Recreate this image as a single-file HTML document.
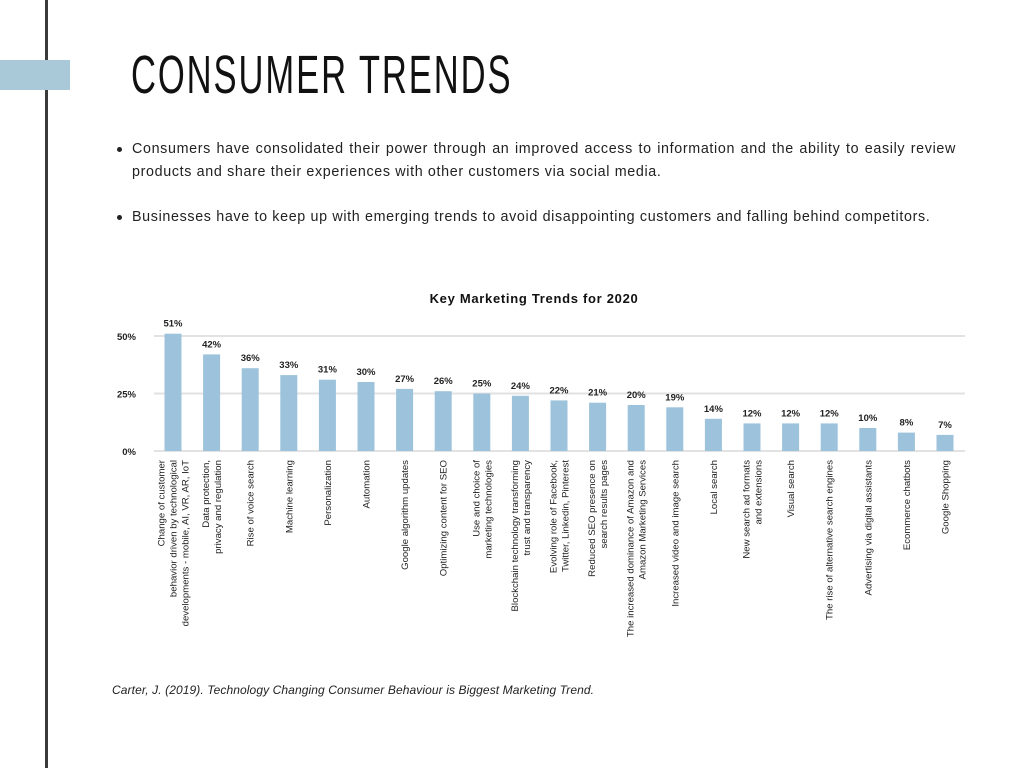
<!DOCTYPE html>
<html><head><meta charset="utf-8">
<style>
html,body{margin:0;padding:0;background:#fff;}
body{width:1024px;height:768px;position:relative;overflow:hidden;font-family:"Liberation Sans",sans-serif;}
.vline{position:absolute;left:45px;top:0;width:3px;height:768px;background:#3a3a3a;}
.tab{position:absolute;left:0;top:60px;width:70px;height:30px;background:#a9c9d9;}
.title{position:absolute;left:131px;top:44px;font-family:"Liberation Sans Narrow","Liberation Sans",sans-serif;font-size:54px;letter-spacing:3px;color:#111;transform:scaleX(0.64);transform-origin:left top;white-space:nowrap;}
.bullets{position:absolute;left:132px;top:138px;width:824px;font-size:14.3px;line-height:23px;color:#222;letter-spacing:0.65px;}
.bullets p{margin:0 0 22px 0;text-align:justify;position:relative;}
.bullets p::before{content:"";position:absolute;left:-15px;top:9px;width:5px;height:5px;border-radius:50%;background:#222;}
.cite{position:absolute;left:112px;top:683px;font-size:12px;letter-spacing:0.1px;font-style:italic;color:#222;white-space:nowrap;}
</style></head><body>
<div class="vline"></div>
<div class="tab"></div>
<div class="title">CONSUMER TRENDS</div>
<div class="bullets">
<p>Consumers have consolidated their power through an improved access to information and the ability to easily review products and share their experiences with other customers via social media.</p>
<p>Businesses have to keep up with emerging trends to avoid disappointing customers and falling behind competitors.</p>
</div>
<svg id="chart" width="1024" height="768" style="position:absolute;left:0;top:0" xmlns="http://www.w3.org/2000/svg"></svg>
<div class="cite">Carter, J. (2019). Technology Changing Consumer Behaviour is Biggest Marketing Trend.</div>
<script>
const categories=[
["Change of customer","behavior driven by technological","developments - mobile, AI, VR, AR, IoT"],
["Data protection,","privacy and regulation"],
["Rise of voice search"],
["Machine learning"],
["Personalization"],
["Automation"],
["Google algorithm updates"],
["Optimizing content for SEO"],
["Use and choice of","marketing technologies"],
["Blockchain technology transforming","trust and transparency"],
["Evolving role of Facebook,","Twitter, Linkedin, Pinterest"],
["Reduced SEO presence on","search results pages"],
["The increased dominance of Amazon and","Amazon Marketing Services"],
["Increased video and image search"],
["Local search"],
["New search ad formats","and extensions"],
["Visual search"],
["The rise of alternative search engines"],
["Advertising via digital assistants"],
["Ecommerce chatbots"],
["Google Shopping"]];
const values=[51,42,36,33,31,30,27,26,25,24,22,21,20,19,14,12,12,12,10,8,7];
const ticks=[0,25,50];
const svg=document.getElementById('chart');
const NS='http://www.w3.org/2000/svg';
const x0=154,x1=965,base=451,top50=336;
const y=v=>base-(base-top50)*v/50;
const step=(945-173)/(values.length-1);
const xc=i=>173+i*step;
function mk(t,a){const e=document.createElementNS(NS,t);for(const k in a)e.setAttribute(k,a[k]);svg.appendChild(e);return e;}
const title=mk('text',{x:534,y:303,'text-anchor':'middle','font-size':13,'letter-spacing':0.7,'font-weight':'bold',fill:'#111','font-family':'Liberation Sans, sans-serif'});
title.textContent='Key Marketing Trends for 2020';


ticks.forEach(t=>{
 const l=mk('line',{x1:x0,x2:x1,y1:y(t),y2:y(t),stroke:'#e2e2e2','stroke-width':2});
 
 
 const tx=mk('text',{x:136,y:y(t)+4,'text-anchor':'end','font-size':9.5,'font-weight':'bold',fill:'#222'});
 tx.textContent=t+'%';
 
 
});
values.forEach((v,i)=>{
 const r=mk('rect',{x:xc(i)-8.5,y:y(v),width:17,height:base-y(v),fill:'#9cc3db'});
 
 
 const t=mk('text',{x:xc(i),y:y(v)-7,'text-anchor':'middle','font-size':9.5,'font-weight':'bold',fill:'#222'});
 t.textContent=v+'%';
 
 
 const lines=categories[i];
 const n=lines.length;
 lines.forEach((s,j)=>{
  const xx=xc(i)+(j-(n-1)/2)*12+3.5;
  const c=mk('text',{x:xx,y:460,'text-anchor':'end','font-size':9.6,fill:'#222',transform:'rotate(-90 '+xx+' 460)'});
  c.textContent=s;
  
  
 });
});
</script>
</body></html>
